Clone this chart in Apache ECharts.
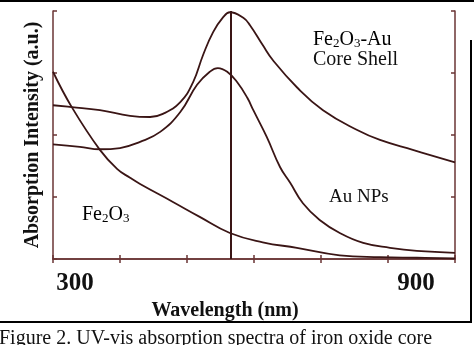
<!DOCTYPE html>
<html><head><meta charset="utf-8">
<script src="https://cdn.jsdelivr.net/npm/echarts@6.0.0/dist/echarts.min.js"></script>
<style>html,body{margin:0;padding:0;background:#fff;overflow:hidden}#c{width:474px;height:345px}</style>
</head><body><div id="c"></div>
<script>
// ---- data ----
const coreShellWl  = [300,328,370,415,445,464,490,509,524,539,554,564,584,594,613,628,664,703,754,788,837,900];
const coreShellVal = [2.48,2.45,2.40,2.31,2.29,2.34,2.53,2.85,3.29,3.66,3.90,3.98,3.89,3.77,3.45,3.21,2.77,2.40,2.08,1.92,1.76,1.56];
const auNpWl  = [300,340,370,400,430,460,490,515,534,546,560,575,590,599,619,639,654,673,698,728,763,803,843,900];
const auNpVal = [1.85,1.81,1.77,1.79,1.89,2.05,2.37,2.81,3.02,3.08,3.02,2.85,2.60,2.40,1.97,1.48,1.23,0.90,0.63,0.42,0.26,0.18,0.13,0.10];
const fe2o3Wl  = [300,328,370,396,415,430,479,519,564,613,664,728,788,843,900];
const fe2o3Val = [3.02,2.45,1.76,1.45,1.31,1.21,0.92,0.68,0.42,0.27,0.18,0.06,0.03,0.02,0.01];
const peakWl = 565;
const xTickLabels = ['300', '900'];
const xName = 'Wavelength (nm)';
const yName = 'Absorption Intensity (a.u.)';
const caption = 'Figure 2. UV-vis absorption spectra of iron oxide core';

const pairs = (xs, ys) => xs.map((x, i) => [x, ys[i]]);
const axisColor = '#6a3535';
const curveColor = '#3a1515';
const serif = '"Liberation Serif", "Times New Roman", serif';

const tickAxis = (pos) => ({
  axisLine: { show: true, lineStyle: { color: axisColor, width: 1.5 } },
  axisTick: { show: true, inside: true, length: 4, lineStyle: { color: axisColor, width: 1.5 } },
  splitLine: { show: false },
  position: pos
});

const chart = echarts.init(document.getElementById('c'), null, { renderer: 'canvas' });
const lineSeries = (name, data) => ({
  name, type: 'line', data, smooth: 0.45, symbol: 'none', xAxisIndex: 0, yAxisIndex: 0,
  lineStyle: { color: curveColor, width: 1.8 }, silent: true
});
const subRich = (size) => ({
  n: { fontFamily: serif, fontSize: size, lineHeight: 20, color: '#111' },
  s: { fontFamily: serif, fontSize: Math.round(size * 0.65), lineHeight: 9, verticalAlign: 'bottom', color: '#111' }
});

chart.setOption({
  animation: false,
  backgroundColor: '#fff',
  grid: { left: 53, top: 11, right: 19, bottom: 86, containLabel: false },
  xAxis: [
    Object.assign({
      type: 'value', min: 300, max: 900, interval: 100,
      name: xName, nameLocation: 'middle', nameGap: 42,
      nameTextStyle: { fontFamily: serif, fontWeight: 'bold', fontSize: 20, color: '#111', padding: [0, 58, 0, 0] },
      axisLabel: {
        show: true, margin: 12, showMinLabel: true, showMaxLabel: true,
        formatter: (v) => v === 300 ? '{a|' + xTickLabels[0] + '}' : (v === 900 ? '{b|' + xTickLabels[1] + '}' : ''),
        rich: {
          a: { fontFamily: serif, fontWeight: 'bold', fontSize: 25, color: '#111', padding: [0, 0, 0, 44] },
          b: { fontFamily: serif, fontWeight: 'bold', fontSize: 25, color: '#111', padding: [0, 78, 0, 0] }
        }
      }
    }, tickAxis('bottom')),
    Object.assign({ type: 'value', min: 300, max: 900, interval: 100, axisLabel: { show: false } }, tickAxis('top'))
  ],
  yAxis: [
    Object.assign({
      type: 'value', min: 0, max: 4, interval: 1,
      name: yName, nameLocation: 'middle', nameGap: 10, nameRotate: 90,
      nameTextStyle: { fontFamily: serif, fontWeight: 'bold', fontSize: 20, color: '#111' },
      axisLabel: { show: false }
    }, tickAxis('left')),
    Object.assign({ type: 'value', min: 0, max: 4, interval: 1, axisLabel: { show: false } }, tickAxis('right'))
  ],
  series: [
    Object.assign(lineSeries('Fe2O3-Au Core Shell', pairs(coreShellWl, coreShellVal)), {
      markLine: {
        silent: true, symbol: 'none', label: { show: false },
        lineStyle: { color: curveColor, width: 2, type: 'solid' },
        data: [{ xAxis: peakWl }]
      }
    }),
    lineSeries('Au NPs', pairs(auNpWl, auNpVal)),
    lineSeries('Fe2O3', pairs(fe2o3Wl, fe2o3Val))
  ],
  graphic: [
    { type: 'rect', shape: { x: 0, y: 0, width: 474, height: 2 }, style: { fill: '#000' } },
    { type: 'rect', shape: { x: 470, y: 40, width: 2, height: 283 }, style: { fill: '#000' } },
    { type: 'rect', shape: { x: 0, y: 321, width: 472, height: 2 }, style: { fill: '#000' } },
    { type: 'text', x: 313, y: 30, style: { text: '{n|Fe}{s|2}{n|O}{s|3}{n|-Au}', rich: subRich(20), verticalAlign: 'top' } },
    { type: 'text', x: 313, y: 50, style: { text: 'Core Shell', font: '20px ' + serif, fill: '#111', verticalAlign: 'top', lineHeight: 20 } },
    { type: 'text', x: 329, y: 187, style: { text: 'Au NPs', font: '19px ' + serif, fill: '#111', verticalAlign: 'top', lineHeight: 20 } },
    { type: 'text', x: 82, y: 205, style: { text: '{n|Fe}{s|2}{n|O}{s|3}', rich: subRich(20), verticalAlign: 'top' } },
    { type: 'text', x: -1, y: 329, style: { text: caption, font: '20px ' + serif, fill: '#111', verticalAlign: 'top', lineHeight: 20 } }
  ]
});
</script>
</body></html>
